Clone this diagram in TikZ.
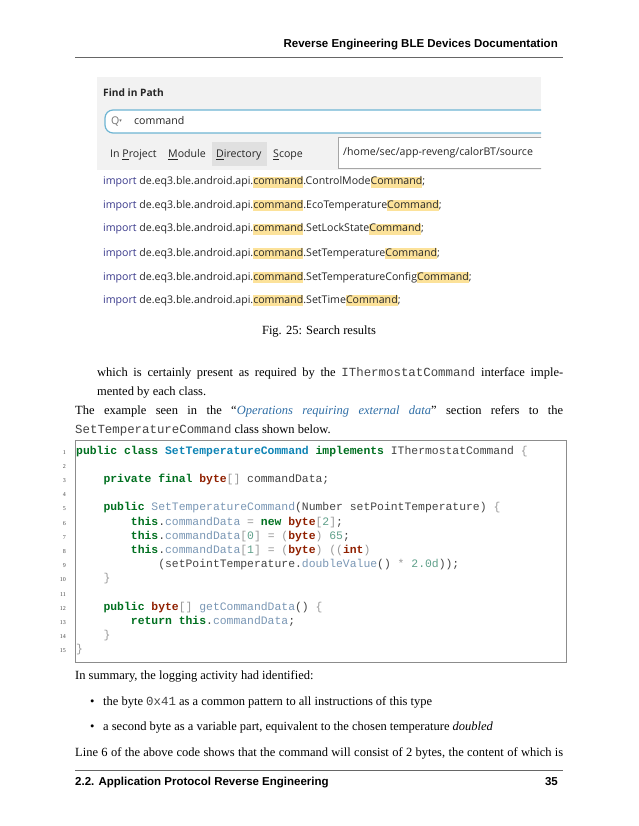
\documentclass[tikz,border=0pt]{standalone}
\usepackage{fontspec}
\setmainfont{Liberation Serif}
\setsansfont{Liberation Sans}
\setmonofont{Liberation Mono}
\newfontfamily\uifont{Open Sans}
\newfontfamily\djv{DejaVu Sans}
\definecolor{kw}{HTML}{007020}
\definecolor{ty}{HTML}{902000}
\definecolor{cls}{HTML}{0E84B5}
\definecolor{pl}{HTML}{444444}
\definecolor{op}{HTML}{999999}
\definecolor{at}{HTML}{7A97B5}
\definecolor{nm}{HTML}{5FA08A}
\definecolor{hly}{HTML}{FCE29A}
\definecolor{imp}{HTML}{3A3A8C}
\definecolor{lnk}{HTML}{2F6EA6}
\newcommand{\hlw}[1]{{\setlength\fboxsep{0pt}\colorbox{hly}{\vphantom{Ag}#1}}}
\newcommand{\K}[1]{\textcolor{kw}{\bfseries #1}}
\newcommand{\T}[1]{\textcolor{ty}{\bfseries #1}}
\newcommand{\Op}[1]{\textcolor{op}{#1}}
\newcommand{\At}[1]{\textcolor{at}{#1}}
\newcommand{\Nm}[1]{\textcolor{nm}{#1}}
\newcommand{\im}[1]{{\ttfamily\fontsize{12.4}{13}\selectfont\color{pl}#1}}
\begin{document}
\begin{tikzpicture}[x=1pt,y=-1pt,
  body/.style={anchor=base west,inner sep=0pt,font=\fontsize{12.5}{13}\selectfont},
  ui/.style={anchor=base west,inner sep=0pt,font=\uifont\fontsize{10.6}{12}\selectfont,text=black!85},
  code/.style={anchor=base west,inner sep=0pt,font=\ttfamily\fontsize{11.4}{13}\selectfont,text=pl},
  lno/.style={anchor=base east,inner sep=0pt,font=\fontsize{6}{7}\selectfont,text=black!70},
  head/.style={inner sep=0pt,font=\sffamily\bfseries\fontsize{11.5}{13}\selectfont}]
\useasboundingbox (0,0) rectangle (638,826);
\fill[white] (0,0) rectangle (638,826);
% header
\node[head,anchor=base east] (hd) at (558,48) {Reverse Engineering BLE Devices Documentation};
\draw[black!60,line width=0.4pt] (75,57) -- (563,57);
% screenshot
\begin{scope}
\clip (97,77) rectangle (541,315);
\fill[black!5] (97,77) rectangle (541,170);
\fill[white] (97,170) rectangle (541,315);
\node[ui,font=\uifont\bfseries\fontsize{10.2}{12}\selectfont] (fip) at (103,97) {Find in Path};
\draw[rounded corners=8pt,draw=cls!60,line width=1.2pt,fill=white] (105,110) rectangle (560,133);
\node[ui,text=black!55] (mag) at (111,125) {Q{\djv\fontsize{5}{6}\selectfont\raisebox{2pt}{▾}}};
\node[ui] (srch) at (134,125) {command};
\fill[black!12] (212,142) rectangle (267,166);
\node[ui] (t1) at (110,158) {In \underline{P}roject};
\node[ui] (t2) at (168,158) {\underline{M}odule};
\node[ui] (t3) at (216,158) {\underline{D}irectory};
\node[ui] (t4) at (273,158) {\underline{S}cope};
\draw[black!35,fill=white] (338,137) rectangle (560,168);
\node[ui] (path) at (343,156) {/home/sec/app-reveng/calorBT/source};
\foreach \y/\cl/\n in {185/ControlMode/1,208/EcoTemperature/2,232/SetLockState/3,256/SetTemperature/4,280/SetTemperatureConfig/5,303/SetTime/6}{
  \node[ui] (imp\n) at (103,\y) {\textcolor{imp}{import} de.eq3.ble.android.api.\hlw{command}.\cl\hlw{Command};};
}
\end{scope}
% caption
\node[body,anchor=base] (cap) at (319,334) {Fig. 25: Search results};
% paragraph
\node[body] (p1) at (97,376) {\makebox[466pt][s]{which is certainly present as required by the \im{IThermostatCommand} interface imple-}};
\node[body] (p2) at (97,395) {mented by each class.};
\node[body] (p3) at (75,414) {\makebox[488pt][s]{The example seen in the “\textcolor{lnk}{\itshape Operations requiring external data}” section refers to the}};
\node[body] (p4) at (75,433) {\im{SetTemperatureCommand} class shown below.};
% code box
\draw[black!45,line width=0.6pt] (75,440) rectangle (566,662);
\foreach \i in {1,...,15}{
  \node[lno] (ln\i) at (66,{454+14.2*(\i-1)}) {\i};
}
\node[code] (c1) at (76,454) {\K{public class} \textcolor{cls}{\bfseries SetTemperatureCommand} \K{implements} IThermostatCommand \Op{\{}};
\node[code] (c3) at (76,{454+14.2*2}) {\phantom{xxxx}\K{private final} \T{byte}\Op{[]} commandData;};
\node[code] (c5) at (76,{454+14.2*4}) {\phantom{xxxx}\K{public} \At{SetTemperatureCommand}(Number setPointTemperature) \Op{\{}};
\node[code] (c6) at (76,{454+14.2*5}) {\phantom{xxxxxxxx}\K{this}.\At{commandData} \Op{=} \K{new} \T{byte}\Op{[}\Nm{2}\Op{]};};
\node[code] (c7) at (76,{454+14.2*6}) {\phantom{xxxxxxxx}\K{this}.\At{commandData}\Op{[}\Nm{0}\Op{]} \Op{=} \Op{(}\T{byte}\Op{)} \Nm{65};};
\node[code] (c8) at (76,{454+14.2*7}) {\phantom{xxxxxxxx}\K{this}.\At{commandData}\Op{[}\Nm{1}\Op{]} \Op{=} \Op{(}\T{byte}\Op{)} \Op{((}\T{int}\Op{)}};
\node[code] (c9) at (76,{454+14.2*8}) {\phantom{xxxxxxxxxxxx}(setPointTemperature.\At{doubleValue}() \Op{*} \Nm{2.0d}));};
\node[code] (c10) at (76,{454+14.2*9}) {\phantom{xxxx}\Op{\}}};
\node[code] (c12) at (76,{454+14.2*11}) {\phantom{xxxx}\K{public} \T{byte}\Op{[]} \At{getCommandData}() \Op{\{}};
\node[code] (c13) at (76,{454+14.2*12}) {\phantom{xxxxxxxx}\K{return} \K{this}.\At{commandData};};
\node[code] (c14) at (76,{454+14.2*13}) {\phantom{xxxx}\Op{\}}};
\node[code] (c15) at (76,{454+14.2*14}) {\Op{\}}};
% summary
\node[body] (s1) at (75,679) {In summary, the logging activity had identified:};
\node[body] (b1d) at (90,705) {•};
\node[body] (b1) at (103,705) {the byte \im{0x41} as a common pattern to all instructions of this type};
\node[body] (b2d) at (90,730) {•};
\node[body] (b2) at (103,730) {a second byte as a variable part, equivalent to the chosen temperature \textit{doubled}};
\node[body] (s2) at (75,756) {\makebox[488pt][s]{Line 6 of the above code shows that the command will consist of 2 bytes, the content of which is}};
% footer
\draw[black!60,line width=0.4pt] (75,770) -- (563,770);
\node[head,anchor=base west] (ft) at (75,785) {2.2. Application Protocol Reverse Engineering};
\node[head,anchor=base east] (pg) at (558,785) {35};
\end{tikzpicture}
\end{document}
